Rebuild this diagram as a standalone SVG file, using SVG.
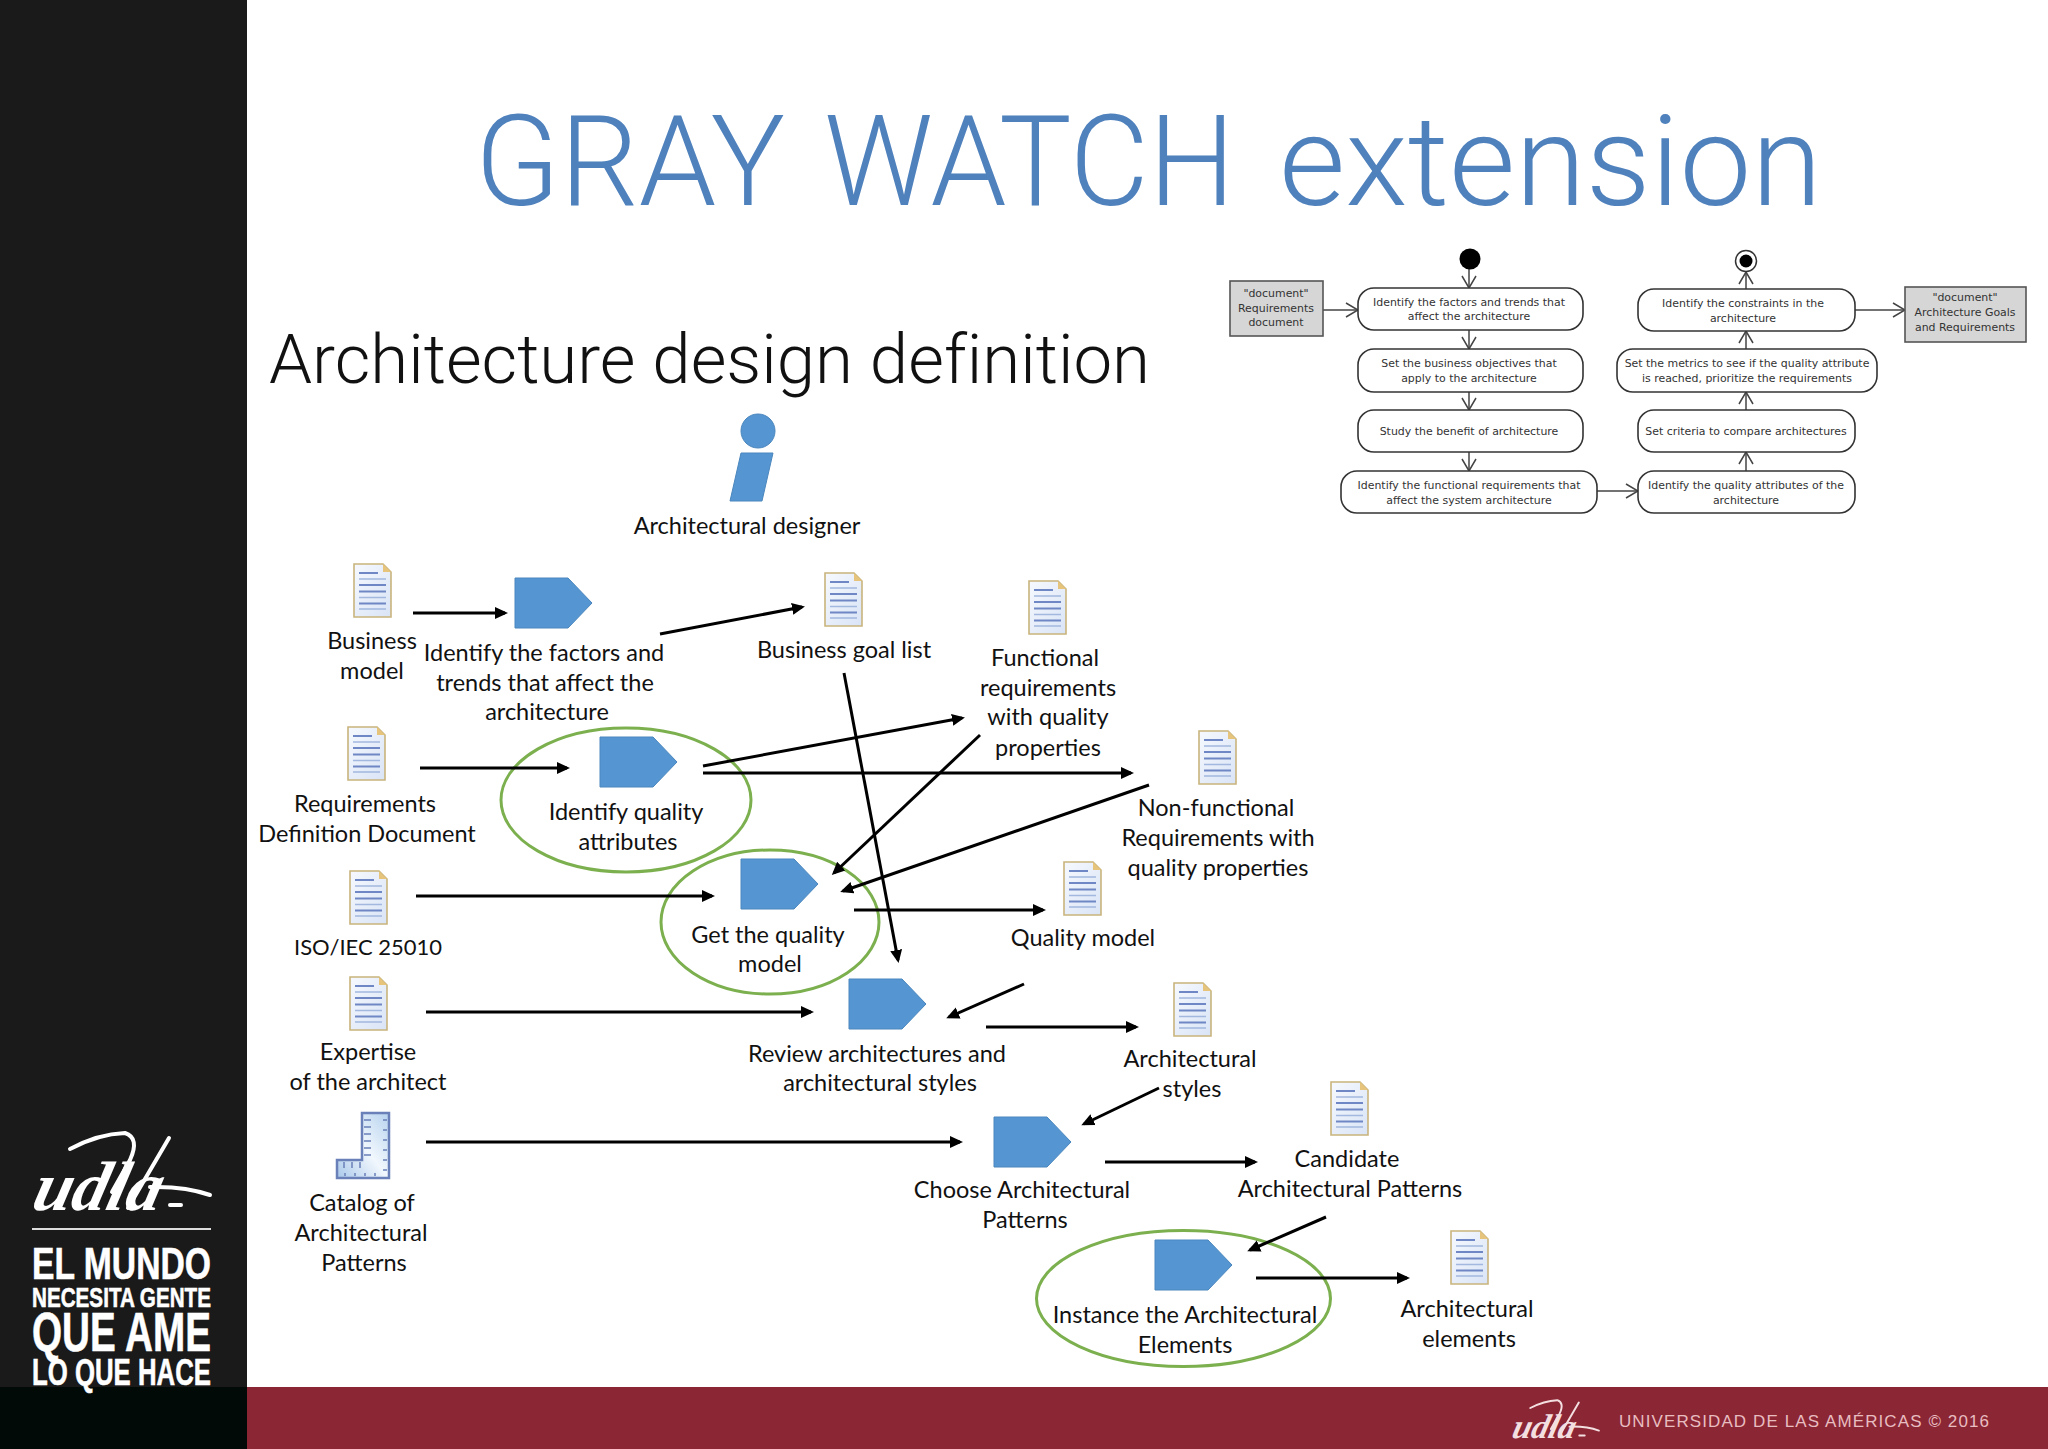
<svg xmlns="http://www.w3.org/2000/svg" width="2048" height="1449" viewBox="0 0 2048 1449">
<style>
.lbl{font-family:Lato,"Open Sans",sans-serif;font-size:23.500px;fill:#111;text-anchor:middle}
.sm{font-family:"DejaVu Sans",sans-serif;font-size:10.950px;fill:#333;text-anchor:middle}
.act{fill:#fff;stroke:#333;stroke-width:1.6}
.doc{fill:#d6d6d6;stroke:#555;stroke-width:1.6}
.pent{fill:#5596d2;stroke:#4a86bd;stroke-width:1}
.ring{fill:none;stroke:#7cb04f;stroke-width:3}
.arr line{stroke:#000;stroke-width:3;marker-end:url(#solid)}
.open line{stroke:#444;stroke-width:1.5;marker-end:url(#hollow)}
.brand{font-family:"Liberation Sans",Arial,sans-serif;font-weight:700;fill:#fff;stroke:#fff;stroke-width:.6}
.sig{font-family:"Liberation Serif",serif;font-style:italic;font-weight:700}
</style>
<defs>
<marker id="solid" markerUnits="userSpaceOnUse" markerWidth="14" markerHeight="14" viewBox="0 0 14 14" refX="10" refY="7" orient="auto"><path d="M0 1 L13 7 L0 13 Z" fill="#000"/></marker>
<marker id="hollow" markerUnits="userSpaceOnUse" markerWidth="14" markerHeight="16" viewBox="0 0 14 16" refX="13" refY="8" orient="auto"><path d="M1 1 L13 8 L1 15" fill="none" stroke="#444" stroke-width="1.5"/></marker>
<linearGradient id="paper" x1="0" y1="0" x2="1" y2="1"><stop offset="0" stop-color="#f6f9fe"/><stop offset="1" stop-color="#d9e4f6"/></linearGradient>
<linearGradient id="rule" x1="0" y1="1" x2="1" y2="0"><stop offset="0" stop-color="#a9c8ea"/><stop offset=".5" stop-color="#f1f7fd"/><stop offset="1" stop-color="#b6d2ee"/></linearGradient>
<symbol id="file" width="39" height="55" viewBox="0 0 39 55">
<path d="M1 1 H30 L38 9 V54 H1 Z" fill="url(#paper)" stroke="#c9b47c" stroke-width="1.6"/>
<path d="M30 1 V9 H38 Z" fill="#e6c47c"/>
<path d="M6 10 H25 M6 22 H33 M6 28.500 H33 M6 40.500 H33" stroke="#6f87c4" stroke-width="1.800"/>
<path d="M6 16 H33 M6 34.500 H33 M6 46 H33" stroke="#a3b8de" stroke-width="1.500"/>
</symbol>
<path id="penta" d="M0 0 H53 L77 25 L53 50 H0 Z"/>
<g id="signature">
<text class="sig" x="0" y="0" font-size="70" textLength="128" lengthAdjust="spacingAndGlyphs" transform="translate(30 1210) skewX(-14)">udla</text>
<path d="M70 1149 Q98 1134 125 1133 Q140 1138 130 1160 L112 1192 M169 1138 L128 1208 M150 1187 Q185 1186 210 1195 M170 1205 H181" fill="none" stroke="currentColor" stroke-width="4" stroke-linecap="round"/>
</g>
</defs>
<rect width="2048" height="1449" fill="#fff"/>
<g id="sidebar">
<rect width="247" height="1387" fill="#1a1a1a"/>
<rect y="1387" width="247" height="62" fill="#020a08"/>
<rect x="247" y="1387" width="1801" height="62" fill="#8b2635"/>
<use href="#signature" fill="#fff" color="#fff"/>
<rect x="32" y="1228" width="179" height="2" fill="#ddd"/>
<text class="brand"><tspan x="32" y="1279" font-size="45" textLength="179" lengthAdjust="spacingAndGlyphs">EL MUNDO</tspan><tspan x="32" y="1307" font-size="28" textLength="179" lengthAdjust="spacingAndGlyphs">NECESITA GENTE</tspan><tspan x="32" y="1351" font-size="55" textLength="179" lengthAdjust="spacingAndGlyphs">QUE AME</tspan><tspan x="32" y="1385" font-size="37" textLength="179" lengthAdjust="spacingAndGlyphs">LO QUE HACE</tspan></text>
<use href="#signature" transform="translate(1496 845) scale(.49)" fill="#f3dfe0" color="#f3dfe0"/>
<text x="1619" y="1427" font-family="Liberation Sans, Arial, sans-serif" font-size="17" fill="#e8bdc0" textLength="370">UNIVERSIDAD DE LAS AMÉRICAS © 2016</text>
</g>
<text id="title" y="205" font-family="Roboto, sans-serif" font-weight="300" font-size="126" fill="#4f81bd"><tspan x="475" textLength="310" lengthAdjust="spacingAndGlyphs">GRAY</tspan> <tspan x="824" textLength="411" lengthAdjust="spacingAndGlyphs">WATCH</tspan> <tspan x="1279" textLength="543" lengthAdjust="spacingAndGlyphs">extension</tspan></text>
<text id="subtitle" x="269" y="383" font-family="Roboto, sans-serif" font-weight="300" font-size="69" fill="#111" style="font-variant-ligatures:none" textLength="881" lengthAdjust="spacingAndGlyphs">Architecture design definition</text>

<g id="activity-connectors" class="open">
<line x1="1469" y1="269" x2="1469" y2="288"/>
<line x1="1323" y1="310" x2="1358" y2="310"/>
<line x1="1469" y1="330" x2="1469" y2="349"/>
<line x1="1469" y1="392" x2="1469" y2="410"/>
<line x1="1469" y1="452" x2="1469" y2="471"/>
<line x1="1597" y1="491" x2="1638" y2="491"/>
<line x1="1746" y1="471" x2="1746" y2="452"/>
<line x1="1746" y1="410" x2="1746" y2="392"/>
<line x1="1746" y1="349" x2="1746" y2="331"/>
<line x1="1746" y1="289" x2="1746" y2="272"/>
<line x1="1855" y1="310" x2="1905" y2="310"/>
</g>
<g id="activity-start"><circle cx="1470" cy="259" r="10.500" fill="#000"/></g>
<g id="activity-end"><circle cx="1746" cy="261" r="10.500" fill="#fff" stroke="#333" stroke-width="1.500"/><circle cx="1746" cy="261" r="6.500" fill="#000"/></g>
<g id="doc-req"><rect class="doc" x="1230" y="281" width="93" height="55"/><text class="sm" x="1276" y="297">"document"</text><text class="sm" x="1276" y="312">Requirements</text><text class="sm" x="1276" y="326">document</text></g>
<g id="act-1"><rect class="act" x="1358" y="288" width="225" height="42" rx="16"/><text class="sm" x="1469" y="306">Identify the factors and trends that</text><text class="sm" x="1469" y="320">affect the architecture</text></g>
<g id="act-2"><rect class="act" x="1358" y="349" width="225" height="43" rx="16"/><text class="sm" x="1469" y="367">Set the business objectives that</text><text class="sm" x="1469" y="382">apply to the architecture</text></g>
<g id="act-3"><rect class="act" x="1358" y="410" width="225" height="42" rx="16"/><text class="sm" x="1469" y="435">Study the benefit of architecture</text></g>
<g id="act-4"><rect class="act" x="1341" y="471" width="256" height="42" rx="16"/><text class="sm" x="1469" y="489">Identify the functional requirements that</text><text class="sm" x="1469" y="504">affect the system architecture</text></g>
<g id="act-5"><rect class="act" x="1638" y="471" width="217" height="42" rx="16"/><text class="sm" x="1746" y="489">Identify the quality attributes of the</text><text class="sm" x="1746" y="504">architecture</text></g>
<g id="act-6"><rect class="act" x="1638" y="410" width="217" height="42" rx="16"/><text class="sm" x="1746" y="435">Set criteria to compare architectures</text></g>
<g id="act-7"><rect class="act" x="1617" y="349" width="260" height="43" rx="16"/><text class="sm" x="1747" y="367">Set the metrics to see if the quality attribute</text><text class="sm" x="1747" y="382">is reached, prioritize the requirements</text></g>
<g id="act-8"><rect class="act" x="1638" y="289" width="217" height="42" rx="16"/><text class="sm" x="1743" y="307">Identify the constraints in the</text><text class="sm" x="1743" y="322">architecture</text></g>
<g id="doc-goals"><rect class="doc" x="1905" y="287" width="121" height="55"/><text class="sm" x="1965" y="301">"document"</text><text class="sm" x="1965" y="316">Architecture Goals</text><text class="sm" x="1965" y="331">and Requirements</text></g>

<g id="designer"><circle cx="758" cy="431" r="17" fill="#5596d2" stroke="#4a86bd"/><path d="M741 453 H773 L762 501 H730 Z" fill="#5596d2" stroke="#4a86bd"/><text class="lbl" x="747" y="534">Architectural designer</text></g>

<g id="rings">
<ellipse class="ring" cx="626" cy="800" rx="125" ry="72"/>
<ellipse class="ring" cx="770" cy="922" rx="109" ry="72"/>
<ellipse class="ring" cx="1183.500" cy="1298.500" rx="147" ry="68"/>
</g>

<g id="connectors" class="arr">
<line x1="413" y1="613" x2="505" y2="613"/>
<line x1="660" y1="634" x2="802" y2="607"/>
<line x1="420" y1="768" x2="567" y2="768"/>
<line x1="703" y1="766" x2="962" y2="718"/>
<line x1="703" y1="773" x2="1131" y2="773"/>
<line x1="980" y1="735" x2="834" y2="873"/>
<line x1="1149" y1="785" x2="843" y2="891"/>
<line x1="844" y1="673" x2="898" y2="960"/>
<line x1="416" y1="896" x2="712" y2="896"/>
<line x1="854" y1="910" x2="1043" y2="910"/>
<line x1="426" y1="1012" x2="811" y2="1012"/>
<line x1="1024" y1="984" x2="949" y2="1017"/>
<line x1="986" y1="1027" x2="1136" y2="1027"/>
<line x1="1159" y1="1088" x2="1084" y2="1124"/>
<line x1="426" y1="1142" x2="960" y2="1142"/>
<line x1="1105" y1="1162" x2="1255" y2="1162"/>
<line x1="1326" y1="1217" x2="1250" y2="1250"/>
<line x1="1256" y1="1278" x2="1407" y2="1278"/>
</g>

<g id="n-business-model"><use href="#file" x="353" y="563"/><text class="lbl" x="372" y="649">Business</text><text class="lbl" x="372" y="679">model</text></g>
<g id="n-identify-factors"><use href="#penta" x="515" y="578" class="pent"/><text class="lbl" x="544" y="661">Identify the factors and</text><text class="lbl" x="545" y="691">trends that affect the</text><text class="lbl" x="547" y="720">architecture</text></g>
<g id="n-goal-list"><use href="#file" x="824" y="572"/><text class="lbl" x="844" y="658">Business goal list</text></g>
<g id="n-functional"><use href="#file" x="1028" y="580"/><text class="lbl" x="1045" y="666">Functional</text><text class="lbl" x="1048" y="696">requirements</text><text class="lbl" x="1048" y="725">with quality</text><text class="lbl" x="1048" y="756">properties</text></g>
<g id="n-requirements"><use href="#file" x="347" y="726"/><text class="lbl" x="365" y="812">Requirements</text><text class="lbl" x="367" y="842">Definition Document</text></g>
<g id="n-identify-quality"><use href="#penta" x="600" y="737" class="pent"/><text class="lbl" x="626" y="820">Identify quality</text><text class="lbl" x="628" y="850">attributes</text></g>
<g id="n-nonfunctional"><use href="#file" x="1198" y="730"/><text class="lbl" x="1216" y="816">Non-functional</text><text class="lbl" x="1218" y="846">Requirements with</text><text class="lbl" x="1218" y="876">quality properties</text></g>
<g id="n-iso"><use href="#file" x="349" y="870"/><text class="lbl" x="368" y="955" style="font-size:22px">ISO/IEC 25010</text></g>
<g id="n-get-model"><use href="#penta" x="741" y="859" class="pent"/><text class="lbl" x="768" y="943">Get the quality</text><text class="lbl" x="770" y="972">model</text></g>
<g id="n-quality-model"><use href="#file" x="1063" y="861"/><text class="lbl" x="1083" y="946">Quality model</text></g>
<g id="n-expertise"><use href="#file" x="349" y="976"/><text class="lbl" x="368" y="1060">Expertise</text><text class="lbl" x="368" y="1090">of the architect</text></g>
<g id="n-review"><use href="#penta" x="849" y="979" class="pent"/><text class="lbl" x="877" y="1062">Review architectures and</text><text class="lbl" x="880" y="1091">architectural styles</text></g>
<g id="n-styles"><use href="#file" x="1173" y="982"/><text class="lbl" x="1190" y="1067">Architectural</text><text class="lbl" x="1192" y="1097">styles</text></g>
<g id="n-catalog">
<path d="M337 1160 H362 V1113 H389 V1178 H337 Z" fill="url(#rule)" stroke="#6a80b8" stroke-width="2.500"/>
<path d="M364 1120 h7 M364 1127 h7 M364 1134 h7 M364 1141 h7 M364 1148 h7 M364 1155 h7 M387 1120 h-4 M387 1130 h-4 M387 1140 h-4 M387 1150 h-4 M387 1160 h-4 M387 1170 h-4 M344 1162 v6 M352 1162 v6 M360 1162 v6 M345 1176 v-3 M355 1176 v-3 M365 1176 v-3 M375 1176 v-3" stroke="#6a80b8" stroke-width="1.500"/>
<text class="lbl" x="362" y="1211">Catalog of</text><text class="lbl" x="361" y="1241">Architectural</text><text class="lbl" x="364" y="1271">Patterns</text></g>
<g id="n-choose"><use href="#penta" x="994" y="1117" class="pent"/><text class="lbl" x="1022" y="1198">Choose Architectural</text><text class="lbl" x="1025" y="1228">Patterns</text></g>
<g id="n-candidate"><use href="#file" x="1330" y="1081"/><text class="lbl" x="1347" y="1167">Candidate</text><text class="lbl" x="1350" y="1197">Architectural Patterns</text></g>
<g id="n-instance"><use href="#penta" x="1155" y="1240" class="pent"/><text class="lbl" x="1185" y="1323">Instance the Architectural</text><text class="lbl" x="1185" y="1353">Elements</text></g>
<g id="n-elements"><use href="#file" x="1450" y="1230"/><text class="lbl" x="1467" y="1317">Architectural</text><text class="lbl" x="1469" y="1347">elements</text></g>
</svg>
